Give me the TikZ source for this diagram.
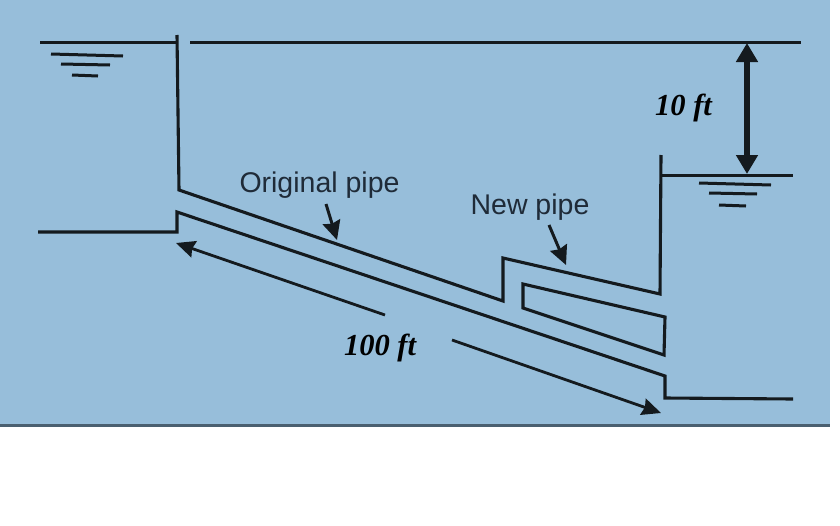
\documentclass[tikz,border=0pt]{standalone}
\usepackage{fontspec}
\setmainfont{Liberation Serif}
\newfontfamily\labelfont{Liberation Sans}
\usetikzlibrary{arrows.meta}
\definecolor{panel}{HTML}{97BEDA}
\definecolor{edgeband}{HTML}{4A6070}
\definecolor{ink}{HTML}{141A1E}
\definecolor{labelink}{HTML}{1F2B38}
\tikzset{
  wall/.style={draw=ink,line width=3.1pt,line join=miter},
  surf/.style={draw=ink,line width=3pt},
  pointer/.style={draw=ink,line width=3pt,-{Triangle[length=19pt,width=18pt,inset=2pt]}},
  dim/.style={draw=ink,line width=2.8pt,-{Triangle[length=19pt,width=17pt,inset=2pt]}},
  bigdim/.style={draw=ink,line width=6pt,{Triangle[length=19pt,width=21pt]}-{Triangle[length=19pt,width=21pt]}},
  pipelabel/.style={font=\labelfont\fontsize{28.5}{32}\selectfont,text=labelink,inner sep=0pt},
  dimlabel/.style={font=\bfseries\itshape\fontsize{30.5}{34}\selectfont,text=black,inner sep=0pt}
}
\begin{document}
\begin{tikzpicture}[x=1pt,y=-1pt]
\useasboundingbox (0,0) rectangle (840,525);
\fill[white] (0,0) rectangle (840,525);
\fill[panel] (0,0) rectangle (830,424);
\fill[edgeband] (0,424) rectangle (830,427);
% surfaces
\draw[surf] (40,42) -- (177,42);
\draw[surf] (190,42) -- (801,42);
\draw[surf] (51,54) -- (123,56);
\draw[surf] (61,64) -- (110,65);
\draw[surf] (72,75) -- (98,76);
\draw[surf] (662,175) -- (793,175);
\draw[surf] (699,183) -- (771,185);
\draw[surf] (709,193) -- (757,194);
\draw[surf] (719,205) -- (746,206);
% pipes
\draw[wall] (177,35) -- (179,190) -- (503,301) -- (503,258) -- (660,294) -- (661,155);
\draw[wall] (38,232) -- (177,232) -- (177,212) -- (665,376) -- (665,398) -- (793,399);
\draw[wall] (665,317) -- (523,284) -- (523,308) -- (664,355) -- cycle;
% labels
\node[pipelabel] (orig) at (319.5,185) {Original pipe};
\node[pipelabel] (newp) at (530,207) {New pipe};
\node[dimlabel] (ten) at (683.5,108) {10 ft};
\node[dimlabel] (hund) at (380,348) {100 ft};
% pointers
\coordinate (origA) at (326,204);
\coordinate (origB) at (337,240);
\coordinate (newA) at (549,225);
\coordinate (newB) at (566,265);
\draw[pointer] (origA) -- (origB);
\draw[pointer] (newA) -- (newB);
% dimensions
\coordinate (topL) at (747,43);
\coordinate (botL) at (747,174);
\draw[bigdim] (topL) -- (botL);
\coordinate (dimL) at (176,243);
\coordinate (dimLs) at (385,315);
\coordinate (dimRs) at (452,340);
\coordinate (dimR) at (661,413);
\draw[dim] (dimLs) -- (dimL);
\draw[dim] (dimRs) -- (dimR);
\end{tikzpicture}
\end{document}
